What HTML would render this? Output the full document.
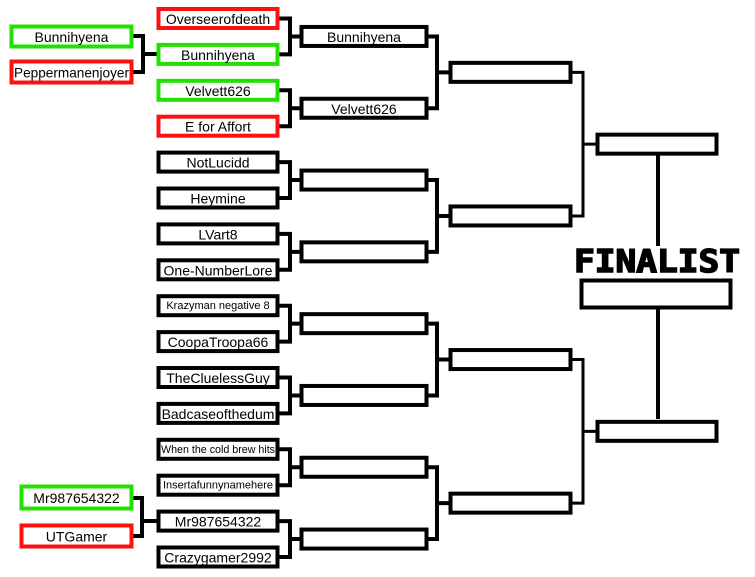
<!DOCTYPE html>
<html><head><style>body{margin:0;background:#fff}svg{display:block}text{font-family:"Liberation Sans",Arial,sans-serif;font-size:14px;text-anchor:middle;dominant-baseline:central}</style></head>
<body>
<svg width="755" height="577" viewBox="0 0 755 577" xmlns="http://www.w3.org/2000/svg">
<g fill="none" stroke="#000" stroke-width="4" id="lines"></g>
<g id="boxes"></g>
<text x="657" y="262" style="font-family:'DejaVu Sans Mono','Liberation Mono',monospace;font-size:31px;font-weight:900;stroke:#000;stroke-width:1.5" textLength="166" lengthAdjust="spacingAndGlyphs">FINALIST</text>
</svg>
<script>
const NS="http://www.w3.org/2000/svg";
const L=document.getElementById('lines'),B=document.getElementById('boxes');
function line(d,w){const p=document.createElementNS(NS,'path');p.setAttribute('d',d);if(w)p.setAttribute('stroke-width',w);L.appendChild(p);}
function box(x1,y1,x2,y2,col,label,fs){const r=document.createElementNS(NS,'rect');r.setAttribute('x',x1+1.5);r.setAttribute('y',y1+1.5);r.setAttribute('width',x2-x1-3);r.setAttribute('height',y2-y1-3);r.setAttribute('fill','#fff');r.setAttribute('stroke',col||'#000');r.setAttribute('stroke-width',4);B.appendChild(r);
if(label){const t=document.createElementNS(NS,'text');t.setAttribute('x',(x1+x2)/2);t.setAttribute('y',(y1+y2)/2+0.5);if(fs)t.style.fontSize=fs+'px';t.textContent=label;const mw=x2-x1-8;B.appendChild(t);if(t.getComputedTextLength()>mw){t.setAttribute('textLength',mw);t.setAttribute('lengthAdjust','spacingAndGlyphs');}}}
const G='#22e000',R='#ff1010';
const r1=[["Overseerofdeath",R],["Bunnihyena",G],["Velvett626",G],["E for Affort",R],["NotLucidd"],["Heymine"],["LVart8"],["One-NumberLore"],["Krazyman negative 8",0,11],["CoopaTroopa66"],["TheCluelessGuy"],["Badcaseofthedum"],["When the cold brew hits",0,11],["Insertafunnynamehere",0,11],["Mr987654322"],["Crazygamer2992"]];
const c1=r1.map((_,i)=>18.5+i*35.9);
const c2=[],c3=[],c4=[];
for(let i=0;i<8;i++){c2.push((c1[2*i]+c1[2*i+1])/2);line(`M279 ${c1[2*i]}H290V${c1[2*i+1]}H279M290 ${c2[i]}H300`);}
for(let i=0;i<4;i++){c3.push((c2[2*i]+c2[2*i+1])/2);line(`M428 ${c2[2*i]}H437V${c2[2*i+1]}H428M437 ${c3[i]}H449`);}
for(let i=0;i<2;i++){c4.push((c3[2*i]+c3[2*i+1])/2);line(`M572 ${c3[2*i]}H583V${c3[2*i+1]}H572M583 ${c4[i]}H596`,3);}
line('M658 155V246M658 308V419');
line('M133 36H143V72H133M143 54H157');
line('M133 498H142V536H133M142 521H157');
r1.forEach((a,i)=>box(157,c1[i]-11,279,c1[i]+11,a[1],a[0],a[2]));
const r2=["Bunnihyena","Velvett626"];
c2.forEach((c,i)=>box(300,c-11,428,c+11,0,r2[i]));
c3.forEach(c=>box(449,c-11,572,c+11));
c4.forEach(c=>box(596,c-11,718,c+11));
box(580,279,732,309);
box(10,25,133,48,G,"Bunnihyena");
box(10,60,133,84,R,"Peppermanenjoyer");
box(20,485,133,510,G,"Mr987654322");
box(20,524,133,548,R,"UTGamer");
</script>
</body></html>
